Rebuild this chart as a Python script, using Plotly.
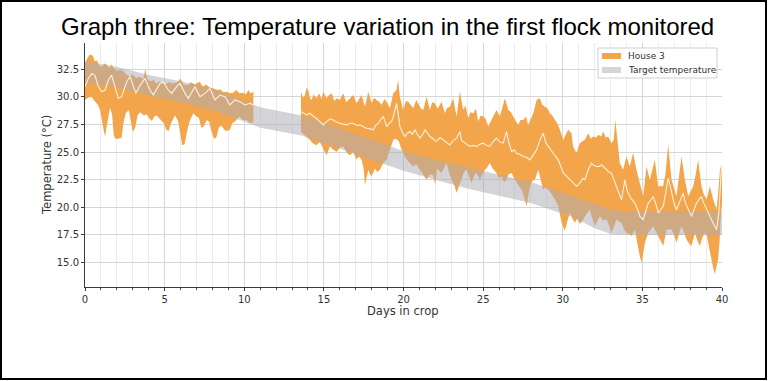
import plotly.graph_objects as go

# ---------------- data ----------------
# House 3, first monitored stretch (days 0 - 10.6): upper edge, lower edge, mean
h3a_top_days = [0.0, 0.15, 0.3, 0.5, 0.6, 0.73, 0.9, 1.05, 1.2, 1.36, 1.5, 1.67, 1.85, 2.0, 2.2, 2.4, 2.6, 2.8,
                3.0, 3.2, 3.45, 3.66, 3.8, 3.9, 4.1, 4.3, 4.5, 4.7, 5.0, 5.25, 5.55, 5.8, 6.0, 6.2, 6.4, 6.65,
                6.9, 7.2, 7.4, 7.6, 7.85, 8.05, 8.3, 8.5, 8.7, 8.9, 9.1, 9.3, 9.5, 9.7, 9.95, 10.1, 10.25, 10.4, 10.57]
h3a_top = [33.0, 33.5, 33.8, 33.7, 33.2, 33.3, 32.8, 32.7, 33.0, 32.9, 32.6, 32.9, 32.5, 32.3, 32.4, 32.3, 32.0, 31.8,
           32.0, 31.7, 31.8, 31.6, 32.5, 31.6, 31.4, 31.5, 31.2, 31.4, 31.1, 31.3, 31.2, 31.3, 31.65, 31.1, 31.0, 31.3,
           31.1, 31.35, 30.9, 31.1, 30.8, 30.75, 30.6, 30.65, 30.4, 30.45, 30.3, 30.35, 30.6, 30.3, 30.35, 30.2, 30.6, 30.3, 30.45]
h3a_low_days = [0.0, 0.2, 0.4, 0.6, 0.8, 0.95, 1.1, 1.26, 1.4, 1.57, 1.7, 1.8, 1.9, 2.1, 2.3, 2.4, 2.55, 2.75, 2.9,
                3.0, 3.15, 3.3, 3.45, 3.7, 3.87, 4.05, 4.2, 4.35, 4.5, 4.7, 4.95, 5.1, 5.25, 5.4, 5.65, 5.85, 6.0,
                6.1, 6.25, 6.4, 6.55, 6.8, 7.0, 7.15, 7.3, 7.45, 7.65, 7.8, 7.95, 8.1, 8.25, 8.4, 8.55, 8.75, 8.9,
                9.1, 9.25, 9.45, 9.7, 9.9, 10.15, 10.35, 10.57]
h3a_low = [29.7, 29.9, 30.0, 29.6, 29.3, 28.8, 27.5, 26.4, 27.6, 29.0, 28.4, 26.6, 26.2, 26.2, 26.3, 27.5, 28.5, 28.8, 27.6,
           26.8, 27.2, 28.3, 28.6, 28.3, 28.4, 28.0, 27.8, 28.2, 28.3, 28.0, 27.6, 27.0, 26.9, 27.6, 28.3, 27.8, 26.6,
           25.6, 25.7, 26.8, 27.7, 28.5, 28.2, 28.1, 27.2, 27.3, 27.9, 27.7, 26.8, 26.2, 26.3, 27.2, 27.4, 27.0, 26.9,
           27.0, 27.6, 27.8, 28.2, 27.9, 27.9, 27.6, 27.7]
h3a_mean_days = [0.0, 0.21, 0.42, 0.63, 0.84, 1.05, 1.26, 1.47, 1.67, 1.88, 2.09, 2.3, 2.62, 2.82, 3.03, 3.2, 3.45,
                 3.77, 4.08, 4.29, 4.71, 4.92, 5.23, 5.44, 5.75, 5.96, 6.28, 6.49, 6.9, 7.22, 7.53, 7.85, 8.16, 8.47,
                 8.79, 9.1, 9.41, 9.73, 10.04, 10.36, 10.57]
h3a_mean = [30.9, 31.65, 32.1, 31.9, 30.9, 30.45, 30.6, 31.5, 31.95, 31.0, 29.85, 30.0, 31.35, 31.8, 30.9, 30.3, 31.0,
            31.65, 30.6, 30.15, 31.2, 31.35, 30.6, 30.3, 30.9, 31.2, 30.3, 29.85, 30.9, 30.0, 30.3, 30.75, 29.7, 30.15,
            30.0, 29.25, 29.7, 29.55, 29.25, 29.4, 29.25]

# House 3, second monitored stretch (days 13.6 - 40)
h3b_top_days = [13.56, 13.7, 13.81, 13.92, 14.02, 14.12, 14.23, 14.35, 14.54, 14.7, 14.85, 14.96, 15.17, 15.3, 15.49,
                15.65, 15.8, 16.0, 16.1, 16.22, 16.4, 16.53, 16.7, 16.85, 17.05, 17.2, 17.37, 17.58, 17.79, 18.0,
                18.15, 18.31, 18.5, 18.63, 18.8, 18.94, 19.15, 19.36, 19.56, 19.67, 19.77, 19.98, 20.15, 20.3, 20.45,
                20.61, 20.8, 20.92, 21.1, 21.24, 21.45, 21.66, 21.8, 21.97, 22.15, 22.28, 22.39, 22.6, 22.75, 22.91,
                23.12, 23.33, 23.54, 23.75, 23.9, 24.06, 24.2, 24.38, 24.55, 24.69, 24.85, 25.0, 25.15, 25.32, 25.53,
                25.7, 25.84, 26.05, 26.2, 26.37, 26.58, 26.75, 26.89, 27.05, 27.2, 27.35, 27.52, 27.7, 27.83, 28.0,
                28.15, 28.36, 28.56, 28.7, 28.88, 29.05, 29.19, 29.35, 29.51, 29.65, 29.82, 30.03, 30.2, 30.34, 30.55,
                30.65, 30.86, 31.07, 31.25, 31.39, 31.6, 31.75, 31.91, 32.1, 32.23, 32.4, 32.54, 32.7, 32.85, 33.06,
                33.2, 33.3, 33.44, 33.58, 33.79, 34.0, 34.21, 34.42, 34.63, 34.84, 35.05, 35.26, 35.47, 35.78, 35.99,
                36.3, 36.45, 36.62, 36.83, 37.14, 37.3, 37.46, 37.67, 37.88, 38.05, 38.19, 38.35, 38.5, 38.71, 38.85,
                39.03, 39.24, 39.45, 39.66, 39.8, 39.87, 39.97, 40.0]
h3b_top = [30.45, 29.9, 30.15, 30.8, 30.6, 29.9, 29.7, 30.2, 29.85, 30.3, 29.8, 30.45, 29.85, 30.1, 30.3,
           29.6, 29.85, 29.7, 30.0, 30.3, 29.5, 29.7, 29.9, 30.15, 29.4, 29.8, 30.15, 29.1, 30.45, 29.4,
           29.9, 29.7, 29.5, 29.25, 29.8, 29.55, 28.95, 30.3, 30.6, 31.5, 30.0, 28.8, 29.6, 29.55, 29.2,
           28.95, 29.7, 29.4, 28.9, 28.8, 30.0, 28.8, 29.5, 29.4, 28.9, 29.25, 29.55, 28.5, 29.0, 29.1,
           29.85, 28.2, 30.45, 28.8, 29.2, 28.05, 28.6, 28.5, 28.9, 27.75, 28.3, 28.2, 28.0, 27.3, 27.9,
           28.3, 28.8, 28.2, 28.9, 29.85, 28.8, 28.6, 28.2, 27.8, 27.45, 27.9, 27.9, 28.2, 27.45, 28.0,
           28.5, 29.7, 29.85, 29.3, 29.1, 28.9, 28.5, 28.3, 27.9, 27.6, 27.0, 26.1, 26.6, 27.0, 26.7,
           25.5, 24.9, 25.8, 26.0, 26.1, 26.7, 26.2, 26.4, 26.3, 26.55, 26.4, 26.85, 26.3, 26.4, 25.8,
           26.1, 27.9, 26.0, 24.0, 23.4, 24.6, 23.7, 24.9, 23.4, 22.2, 21.0, 23.7, 22.5, 24.3, 21.9,
           21.9, 23.0, 25.65, 22.5, 21.0, 23.0, 24.6, 22.5, 21.0, 21.5, 21.9, 23.0, 24.3, 21.9, 21.2,
           20.7, 21.9, 20.7, 19.8, 22.0, 23.4, 23.8, 23.8]
h3b_low_days = [13.56, 13.8, 14.12, 14.3, 14.54, 14.75, 14.96, 15.17, 15.38, 15.6, 15.8, 16.0, 16.22, 16.45, 16.64,
                16.85, 17.05, 17.2, 17.37, 17.5, 17.58, 17.68, 17.79, 17.9, 18.0, 18.21, 18.35, 18.52, 18.73, 18.94,
                19.15, 19.36, 19.5, 19.7, 19.88, 20.05, 20.2, 20.4, 20.61, 20.8, 21.03, 21.2, 21.45, 21.66, 21.87,
                22.0, 22.1, 22.39, 22.55, 22.7, 22.85, 23.02, 23.2, 23.33, 23.5, 23.64, 23.8, 23.96, 24.1, 24.27,
                24.45, 24.59, 24.8, 24.95, 25.11, 25.25, 25.42, 25.6, 25.84, 26.0, 26.16, 26.3, 26.47, 26.6, 26.79,
                26.95, 27.1, 27.25, 27.41, 27.55, 27.73, 27.85, 27.94, 28.1, 28.25, 28.46, 28.6, 28.77, 28.9, 29.09,
                29.25, 29.4, 29.55, 29.72, 29.85, 29.93, 30.13, 30.3, 30.45, 30.6, 30.76, 30.9, 31.08, 31.25, 31.39,
                31.55, 31.7, 31.85, 32.02, 32.15, 32.33, 32.55, 32.75, 32.9, 33.06, 33.2, 33.37, 33.55, 33.69, 33.85,
                34.0, 34.15, 34.32, 34.53, 34.65, 34.74, 34.85, 34.95, 35.05, 35.16, 35.37, 35.5, 35.68, 35.85, 36.0,
                36.15, 36.31, 36.52, 36.7, 36.83, 37.0, 37.14, 37.3, 37.46, 37.6, 37.77, 37.95, 38.09, 38.3, 38.45,
                38.61, 38.75, 38.92, 39.05, 39.13, 39.25, 39.34, 39.45, 39.55, 39.65, 39.76, 39.85, 39.91, 40.0]
h3b_low = [26.8, 26.5, 26.1, 25.8, 25.6, 25.9, 25.3, 24.7, 25.5, 25.2, 25.0, 25.4, 25.5, 24.9, 24.7,
           25.0, 24.3, 24.6, 24.3, 23.5, 22.0, 22.6, 23.4, 23.0, 22.8, 23.5, 23.2, 23.4, 24.0, 24.3,
           25.2, 26.1, 26.2, 26.0, 25.2, 24.7, 24.3, 24.0, 23.7, 23.9, 23.4, 23.0, 22.5, 23.0, 22.9,
           22.0, 23.5, 23.1, 23.6, 24.0, 23.2, 22.5, 22.0, 21.3, 22.0, 22.5, 23.2, 23.4, 22.8, 22.2,
           22.9, 23.1, 22.5, 23.0, 23.4, 23.6, 24.0, 23.5, 23.1, 22.6, 22.8, 22.3, 22.5, 23.0, 23.1,
           22.6, 22.2, 21.9, 21.6, 21.0, 20.1, 21.0, 21.9, 22.4, 22.5, 23.4, 22.6, 21.6, 21.8, 21.6,
           21.3, 21.0, 20.6, 20.1, 19.3, 18.6, 17.85, 18.8, 19.5, 19.0, 18.6, 19.0, 18.5, 18.8, 19.2,
           19.5, 19.8, 19.0, 18.3, 18.7, 19.2, 18.8, 18.9, 18.4, 17.7, 18.2, 18.9, 18.7, 18.6, 18.0,
           17.7, 17.6, 17.4, 18.0, 17.0, 16.2, 15.5, 15.0, 15.6, 16.8, 17.7, 18.0, 18.3, 17.8, 17.4,
           17.0, 16.5, 18.0, 18.0, 18.0, 17.5, 16.8, 17.6, 18.3, 17.8, 17.1, 16.7, 16.5, 17.7, 17.0,
           16.5, 17.2, 17.7, 17.4, 17.1, 16.0, 15.3, 14.5, 13.95, 14.6, 15.3, 17.0, 18.9, 20.4]
h3b_mean_days = [13.56, 13.75, 13.92, 14.1, 14.33, 14.55, 14.75, 14.96, 15.17, 15.4, 15.59, 15.8, 16.0, 16.2, 16.43,
                 16.65, 16.85, 17.05, 17.26, 17.45, 17.68, 17.9, 18.1, 18.25, 18.42, 18.6, 18.73, 18.85, 18.94, 19.1,
                 19.25, 19.38, 19.46, 19.56, 19.65, 19.77, 19.92, 20.09, 20.25, 20.4, 20.55, 20.72, 20.9, 21.03, 21.2,
                 21.35, 21.5, 21.66, 21.85, 22.07, 22.3, 22.49, 22.7, 22.91, 23.1, 23.33, 23.54, 23.65, 23.75, 23.95,
                 24.17, 24.4, 24.59, 24.8, 25.0, 25.2, 25.42, 25.6, 25.84, 26.05, 26.26, 26.47, 26.6, 26.79, 26.95,
                 27.1, 27.3, 27.52, 27.75, 27.94, 28.15, 28.36, 28.55, 28.77, 28.95, 29.09, 29.25, 29.4, 29.55, 29.72,
                 29.9, 30.03, 30.25, 30.45, 30.65, 30.87, 31.08, 31.25, 31.39, 31.6, 31.81, 31.95, 32.12, 32.3, 32.44,
                 32.6, 32.75, 32.9, 33.06, 33.2, 33.37, 33.55, 33.69, 33.9, 34.05, 34.21, 34.4, 34.53, 34.7, 34.84,
                 35.05, 35.2, 35.37, 35.5, 35.68, 35.85, 36.0, 36.15, 36.31, 36.45, 36.62, 36.75, 36.83, 37.0, 37.14,
                 37.35, 37.56, 37.7, 37.88, 38.09, 38.25, 38.4, 38.55, 38.71, 38.85, 39.03, 39.2, 39.34, 39.5, 39.66,
                 39.8, 39.87, 39.97]
h3b_mean = [28.65, 28.5, 28.35, 28.5, 28.2, 28.0, 27.75, 27.45, 27.75, 28.0, 27.9, 27.7, 27.6, 27.5, 27.45,
            27.6, 27.6, 27.4, 27.45, 27.3, 27.15, 27.1, 27.0, 27.4, 27.6, 28.0, 28.2, 27.7, 27.3, 27.6,
            27.75, 28.3, 28.8, 29.4, 28.6, 27.3, 26.8, 26.4, 26.7, 26.85, 26.6, 27.0, 26.5, 26.25, 26.6,
            27.0, 26.7, 26.4, 26.2, 25.94, 26.3, 26.1, 25.9, 25.64, 26.0, 26.25, 26.84, 26.0, 25.94, 25.7,
            25.5, 25.6, 25.5, 25.7, 25.8, 25.6, 25.5, 25.9, 26.25, 25.9, 25.8, 26.84, 25.9, 25.04, 25.2,
            24.89, 24.8, 24.6, 24.5, 24.29, 24.8, 25.19, 26.0, 26.7, 25.8, 25.5, 25.1, 24.89, 24.6, 24.29,
            23.6, 23.1, 22.8, 22.5, 22.2, 21.9, 22.2, 22.6, 22.49, 23.39, 23.99, 23.8, 23.69, 23.7, 23.84,
            23.6, 23.39, 23.2, 23.09, 22.6, 21.88, 21.2, 20.68, 22.49, 21.5, 20.98, 20.6, 20.38, 19.8, 19.18,
            18.88, 19.6, 20.38, 20.6, 20.98, 20.3, 19.48, 19.8, 20.08, 21.2, 22.64, 21.9, 21.28, 20.3, 19.78,
            20.5, 21.28, 20.4, 19.78, 19.18, 19.8, 20.38, 20.7, 20.98, 20.4, 19.78, 19.2, 18.88, 18.4, 17.97,
            19.5, 21.88, 23.69]

# Target temperature band
target_days = [0, 2, 4, 6, 8, 10, 11, 13.6, 16, 18, 20, 22, 24, 26, 28, 29.8, 30.5, 32, 33, 34, 40]
target_upper = [33.2, 32.7, 31.95, 31.4, 30.7, 29.6, 29.05, 28.3, 27.1, 26.1, 25.1, 24.3, 23.6, 22.95, 22.3, 21.4,
                21.1, 20.3, 19.8, 19.65, 19.65]
target_lower = [31.3, 30.8, 30.1, 29.5, 28.8, 27.75, 27.2, 26.5, 25.3, 24.3, 23.3, 22.5, 21.7, 21.05, 20.4, 19.5,
                19.2, 18.1, 17.6, 17.5, 17.5]

x_ticks = [0, 5, 10, 15, 20, 25, 30, 35, 40]
y_ticks = [15.0, 17.5, 20.0, 22.5, 25.0, 27.5, 30.0, 32.5]

title_text = "Graph three: Temperature variation in the first flock monitored"
series_names = ["House 3", "Target temperature"]

# ---------------- styling ----------------
ORANGE = "#F2A54A"
GRAY = "rgba(172,172,180,0.52)"
MEAN = "#FFF0DC"
TXT = "#333333"
FONT = "DejaVu Sans"

W, H = 768, 381
L, R, T, B = 85, 46, 43, 94
PW, PH = W - L - R, H - T - B


def px(x):
    return (x - L) / PW


def py(y):
    return (H - B - y) / PH


fig = go.Figure()


def band(xt, yt, xb, yb):
    return list(xt) + list(xb)[::-1], list(yt) + list(yb)[::-1]


for xt, yt, xb, yb in [(h3a_top_days, h3a_top, h3a_low_days, h3a_low),
                       (h3b_top_days, h3b_top, h3b_low_days, h3b_low)]:
    bx, by = band(xt, yt, xb, yb)
    fig.add_trace(go.Scatter(x=bx, y=by, mode="lines", fill="toself", fillcolor=ORANGE,
                             line=dict(width=0), name=series_names[0], showlegend=False,
                             hoverinfo="skip"))

tx, ty = band(target_days, target_upper, target_days, target_lower)
fig.add_trace(go.Scatter(x=tx, y=ty, mode="lines", fill="toself", fillcolor=GRAY,
                         line=dict(width=0), name=series_names[1], showlegend=False, hoverinfo="skip"))

fig.add_trace(go.Scatter(x=h3a_mean_days + [None] + h3b_mean_days, y=h3a_mean + [None] + h3b_mean,
                         mode="lines", line=dict(color=MEAN, width=1.1), showlegend=False,
                         connectgaps=False, hoverinfo="skip"))

axis_common = dict(showline=True, linecolor="#3a3a3a", linewidth=1, ticks="outside", ticklen=3,
                   tickcolor="#3a3a3a", tickfont=dict(family=FONT, size=10, color=TXT),
                   showgrid=True, gridcolor="#d6d6d6", gridwidth=1, zeroline=False, mirror=False)

fig.update_xaxes(range=[0, 40], tickmode="array", tickvals=x_ticks, **axis_common,
                 minor=dict(dtick=1, tick0=0, showgrid=True, gridcolor="#ececec", ticks="outside",
                            ticklen=2, tickcolor="#555555"))
fig.update_yaxes(range=[12.8, 34.85], tickmode="array", tickvals=y_ticks,
                 ticktext=[f"{v:.1f}" for v in y_ticks], **axis_common)

shapes = []
annotations = []

# outer frame
shapes.append(dict(type="rect", xref="paper", yref="paper", x0=px(1), x1=px(766), y0=py(379), y1=py(1),
                   line=dict(color="black", width=2), fillcolor="rgba(0,0,0,0)", layer="above"))

# legend box
shapes.append(dict(type="rect", xref="paper", yref="paper", x0=px(598), x1=px(717), y0=py(78), y1=py(48),
                   line=dict(color="#d0d0d0", width=1), fillcolor="rgba(255,255,255,0.85)", layer="above"))
shapes.append(dict(type="rect", xref="paper", yref="paper", x0=px(602), x1=px(621), y0=py(59), y1=py(53),
                   line=dict(width=0), fillcolor=ORANGE, layer="above"))
shapes.append(dict(type="rect", xref="paper", yref="paper", x0=px(602), x1=px(621), y0=py(73), y1=py(67),
                   line=dict(width=0), fillcolor="#d6d6d8", layer="above"))
annotations.append(dict(text=series_names[0], xref="paper", yref="paper", x=px(626), y=py(56),
                        xanchor="left", yanchor="middle", showarrow=False,
                        font=dict(family=FONT, size=9, color=TXT)))
annotations.append(dict(text=series_names[1], xref="paper", yref="paper", x=px(626), y=py(70),
                        xanchor="left", yanchor="middle", showarrow=False,
                        font=dict(family=FONT, size=9, color=TXT)))

# title and axis titles
annotations.append(dict(text=title_text, xref="paper", yref="paper", x=px(387.5), y=py(27),
                        xanchor="center", yanchor="middle", showarrow=False,
                        font=dict(family="Liberation Sans, Arial", size=24, color="black")))
annotations.append(dict(text="Days in crop", xref="paper", yref="paper", x=px(403), y=py(311),
                        xanchor="center", yanchor="middle", showarrow=False,
                        font=dict(family=FONT, size=11.5, color=TXT)))
annotations.append(dict(text="Temperature (°C)", xref="paper", yref="paper", x=px(47), y=py(165),
                        xanchor="center", yanchor="middle", showarrow=False, textangle=-90,
                        font=dict(family=FONT, size=11.5, color=TXT)))

fig.update_layout(width=W, height=H, autosize=False, margin=dict(l=L, r=R, t=T, b=B),
                  paper_bgcolor="white", plot_bgcolor="white", showlegend=False,
                  shapes=shapes, annotations=annotations)

fig.write_html("out.html", config={"displayModeBar": False},
               post_script="document.body.style.margin='0';document.body.style.padding='0';"
                           "document.documentElement.style.overflow='hidden';")
